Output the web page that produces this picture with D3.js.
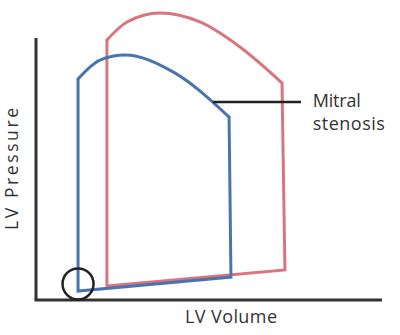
<!DOCTYPE html>
<html>
<meta charset="utf-8">
<script src="https://cdn.jsdelivr.net/npm/d3@7"></script>
<style>
body{ margin:0; background:white; }
.lbl{ font-family: "Open Sans", sans-serif; fill:#333; }
</style>
<body>
<div id="chart"></div>
<script>
// volume (ml) / pressure (mmHg)
var normalArc = [[24.3,115.5],[37,125.4],[51.4,128],[79.2,119.2],[111.6,95.6]];
var normalSides = [[111.6,95.6],[112.7,12],[24.3,4.7],[24.3,115.5]];

var stenosisArc = [[41,135.9],[52.6,145.3],[71.7,150],[94.8,145.3],[117.9,132.2],[142.2,113.4]];
var stenosisSides = [[142.2,113.4],[143.9,15.7],[41,7.3],[41,135.9]];

var callout = [[102.3,103.5],[153.2,103.5]];
var calloutText = ["Mitral","stenosis"];
var calloutWidths = [48,72];
var marker = [24.3,8.4];

var width = 400, height = 335;
var svg = d3.select("#chart").append("svg").attr("width",width).attr("height",height);

var x = d3.scaleLinear().domain([0,200]).range([36,382]);
var y = d3.scaleLinear().domain([0,150]).range([300,13]);

var blue = "#4a74b0", red = "#d9767d";

// axes, no ticks
svg.append("line").attr("x1",x(0)).attr("x2",x(0)).attr("y1",38).attr("y2",y(0))
  .attr("stroke","#333").attr("stroke-width",3);
svg.append("line").attr("x1",x(0)-1.5).attr("x2",x(200)).attr("y1",y(0)).attr("y2",y(0))
  .attr("stroke","#333").attr("stroke-width",3);

var curved = d3.line().x(function(d){return x(d[0])}).y(function(d){return y(d[1])}).curve(d3.curveMonotoneX);
var straight = d3.line().x(function(d){return x(d[0])}).y(function(d){return y(d[1])});

function loop(arc, sides, col){
  svg.append("path").attr("d",curved(arc)).attr("fill","none").attr("stroke",col)
    .attr("stroke-width",3).attr("stroke-linecap","round");
  svg.append("path").attr("d",straight(sides)).attr("fill","none").attr("stroke",col)
    .attr("stroke-width",3).attr("stroke-linejoin","miter").attr("stroke-linecap","round");
}
loop(stenosisArc, stenosisSides, red);
loop(normalArc, normalSides, blue);

svg.append("path").attr("d",straight(callout)).attr("stroke","#222").attr("stroke-width",2.5);

svg.selectAll(".callout").data(calloutText).enter().append("text")
  .attr("class","lbl")
  .attr("x",x(160)).attr("y",function(d,i){return 107+i*23})
  .attr("font-size",18)
  .attr("textLength",function(d,i){return calloutWidths[i]}).attr("lengthAdjust","spacing")
  .text(function(d){return d});

svg.append("circle").attr("cx",x(marker[0])).attr("cy",y(marker[1])).attr("r",15.5)
  .attr("fill","none").attr("stroke","#222").attr("stroke-width",2.5);

svg.append("text").attr("class","lbl").attr("x",185).attr("y",323)
  .attr("font-size",18).attr("textLength",92).attr("lengthAdjust","spacing").text("LV Volume");
svg.append("text").attr("class","lbl").attr("transform","translate(18,230) rotate(-90)")
  .attr("font-size",17.5).attr("textLength",122).attr("lengthAdjust","spacing").text("LV Pressure");
</script>
</body>
</html>
